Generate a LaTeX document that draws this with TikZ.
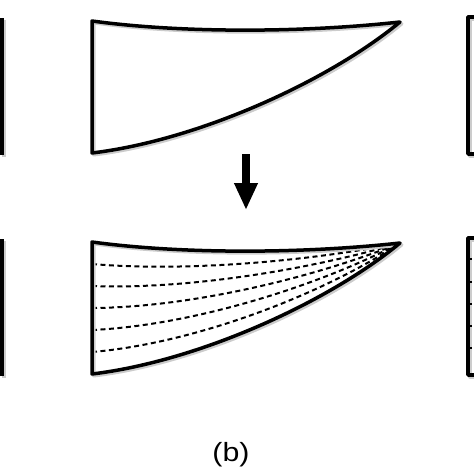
\documentclass[tikz,border=0pt]{standalone}
\usepackage{fontspec}
\setmainfont{Liberation Sans}
\usetikzlibrary{arrows.meta,calc}
\tikzset{
outline/.style={draw, line width=0.7mm, line join=round},
shadowline/.style={draw=gray!40, line width=0.7mm, line join=round,
	xshift=0.35mm, yshift=-0.35mm},
fibre/.style={draw, dash pattern=on 1mm off 0.7mm, line width=0.4mm},
}
\newcommand{\sheetpath}[1]{(92,21+#1) .. controls (180,33+#1) and (300,33+#1) .. (400,22+#1)
	.. controls (330,80+#1) and (200,140+#1) .. (92,153+#1) -- cycle}

\begin{document}
\begin{tikzpicture}[x=0.2mm, y=-0.2mm]
	\useasboundingbox (0,0) rectangle (474,474);
	\clip (0,0) rectangle (474,474);
	% neighbours, cut off at the edges
	\foreach \dy in {0,221} {
		\draw[shadowline] (2,18+\dy) -- (2,155+\dy);
		\draw[outline] (2,18+\dy) -- (2,155+\dy);
		\draw[shadowline] (480,17+\dy) -- (468,17+\dy) -- (468,154+\dy) -- (480,154+\dy);
		\draw[outline] (480,17+\dy) -- (468,17+\dy) -- (468,154+\dy) -- (480,154+\dy);
	}
	\foreach \y in {259,282,304,326,348}
		\draw[line width=0.35mm] (469,\y) -- (472,\y);
	% sheet before
	\draw[shadowline] \sheetpath{0};
	\draw[outline] \sheetpath{0};
	% sheet after, with fibres
	\foreach \k in {1,...,5} {
		\pgfmathsetmacro{\t}{\k/6}
		\draw[fibre] (92,242+132*\t) .. controls (180+20*\t,254+107*\t)
			and (300+30*\t,254+47*\t) .. (400,243);
	}
	\draw[shadowline] \sheetpath{221};
	\draw[outline] \sheetpath{221};
	% arrow
	\coordinate (from) at (246,154);
	\coordinate (to) at (246,210);
	\draw[line width=1.6mm, -{Triangle[length=5.4mm, width=4.4mm]}] (from) -- (to);
	\node[font=\fontsize{15}{17}\selectfont, xscale=1.15, transform shape] (label) at (231,455) {(b)};
\end{tikzpicture}
\end{document}
